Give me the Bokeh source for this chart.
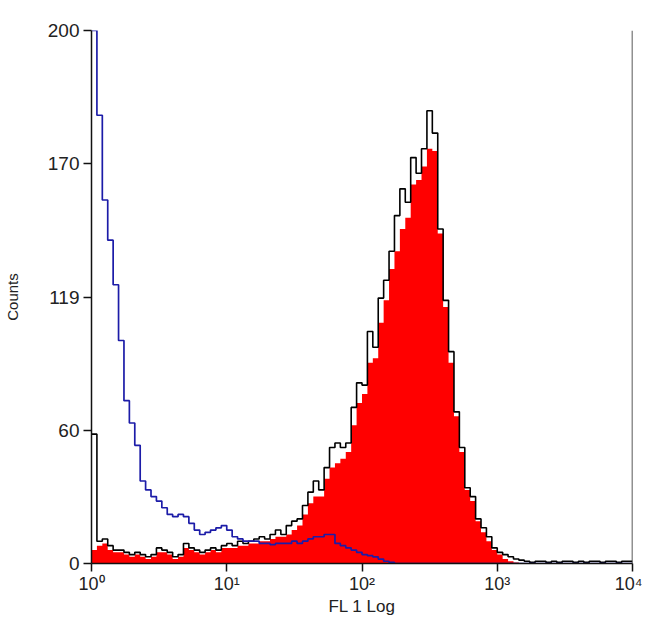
import numpy as np
from bokeh.plotting import figure
from bokeh.models import Range1d, FixedTicker, CustomJSTickFormatter, Span
from bokeh.embed import file_html
from bokeh.resources import INLINE

# channel grid: 4 decades, 0.04-decade bins
DECADES = 4
BIN_WIDTH = 0.04

x_tick_values = [1, 10, 100, 1000, 10000]
x_tick_labels = ["10\u2070", "10\u00b9", "10\u00b2", "10\u00b3", "10\u2074"]
y_tick_values = [0, 59.75, 119.5, 179.25, 239]
y_tick_labels = ["0", "60", "119", "170", "200"]
Y_MAX = 239

# isotype control (blue outline)
blue_counts = [239, 201, 163, 145, 125, 100, 73, 63, 53, 37,
               33, 30, 28, 25, 22, 21, 22, 21, 18, 15,
               13, 14, 15, 16, 17, 15, 12, 11, 10, 10,
               10, 9, 9, 8.5, 9, 9, 9, 10, 9, 10,
               11, 12, 12, 13, 13, 9, 8, 7, 6, 5,
               4, 3.5, 3, 2, 1, 0.5, 0, 0, 0, 0,
               0, 0, 0, 0, 0, 0, 0, 0, 0, 0,
               0, 0, 0, 0, 0, 0, 0, 0, 0, 0,
               0, 0, 0, 0, 0, 0, 0, 0, 0, 0,
               0, 0, 0, 0, 0, 0, 0, 0, 0, 0]

# stained sample outline (black)
black_counts = [58, 10, 11, 8, 6, 6, 5, 4, 5, 4,
                3, 4, 7, 6, 5, 3, 4, 9, 7, 6,
                5, 6, 7, 6, 8, 9, 8, 10, 9, 10,
                11, 12, 11, 13, 15, 13, 17, 19, 20, 26,
                32, 37, 33, 43, 52, 54, 52, 54, 70, 81,
                80, 104, 97, 119, 127, 140, 156, 168, 162, 182,
                175, 186, 203, 193, 150, 118, 95, 68, 52, 34,
                30, 20, 16, 12, 7, 5, 4, 3, 2, 1.5,
                1, 0.5, 1, 1, 0.5, 1, 0.5, 1, 1, 0.5,
                1, 0.5, 1, 1, 0.5, 1, 1, 0.5, 1, 1]

# stained sample fill (red)
red_counts = [6, 8, 9, 6, 5, 5, 4, 3, 4, 3,
              2, 3, 5, 5, 4, 2, 3, 7, 6, 5,
              4, 5, 6, 5, 7, 7, 7, 8, 8, 9,
              9, 10, 10, 11, 12, 12, 13, 15, 17, 22,
              27, 30, 30, 38, 43, 45, 47, 50, 62, 72,
              76, 90, 92, 108, 118, 132, 140, 150, 155, 170,
              172, 178, 186, 185, 148, 115, 90, 66, 50, 33,
              28, 19, 14, 10, 6, 4, 2, 1, 0.5, 0,
              0, 0, 0, 0, 0, 0, 0, 0, 0, 0,
              0, 0, 0, 0, 0, 0, 0, 0, 0, 0]

n = len(black_counts)
edges = 10.0 ** (np.arange(n + 1) * BIN_WIDTH)
left = edges[:-1]
right = edges[1:]

def step_area(counts):
    xs, ys = [], []
    for l, r, c in zip(left, right, counts):
        xs += [l, r]
        ys += [c, c]
    return xs, ys

def step_xy(counts):
    c = list(counts)
    return list(left) + [right[-1]], c + [c[-1]]

FONT = "Liberation Sans"
TXT = "#222222"

p = figure(frame_width=541, frame_height=533, x_axis_type="log",
           x_range=Range1d(1, 10 ** DECADES), y_range=Range1d(0, Y_MAX),
           output_backend="svg", toolbar_location=None,
           min_border_left=91, min_border_right=10, min_border_top=30, min_border_bottom=60)
p.background_fill_color = "white"
p.border_fill_color = "white"
p.outline_line_color = None
p.grid.grid_line_color = None

rx, ry = step_area(red_counts)
p.varea(x=rx, y1=[0] * len(ry), y2=ry, fill_color="#ff0000")

bx, by = step_xy(black_counts)
p.step(bx, by, mode="after", line_color="#000000", line_width=1.6)
ux, uy = step_xy(blue_counts)
p.step(ux, uy, mode="after", line_color="#1c1ca8", line_width=1.7)

p.add_layout(Span(location=10 ** DECADES, dimension="height",
                  line_color="#222222", line_width=1.5))

p.xaxis.ticker = FixedTicker(ticks=x_tick_values)
p.xaxis.formatter = CustomJSTickFormatter(
    args=dict(vals=x_tick_values, labs=x_tick_labels),
    code="""
let best = 0, bd = 1e99;
for (let i = 0; i < vals.length; i++) {
  const d = Math.abs(Math.log10(vals[i]) - Math.log10(tick));
  if (d < bd) { bd = d; best = i; }
}
return labs[best];
""")
p.yaxis.ticker = FixedTicker(ticks=y_tick_values)
p.yaxis.formatter = CustomJSTickFormatter(
    args=dict(vals=y_tick_values, labs=y_tick_labels),
    code="""
let best = 0, bd = 1e99;
for (let i = 0; i < vals.length; i++) {
  const d = Math.abs(vals[i] - tick);
  if (d < bd) { bd = d; best = i; }
}
return labs[best];
""")

for ax in (p.xaxis[0], p.yaxis[0]):
    ax.axis_line_color = "#111111"
    ax.axis_line_width = 1.5
    ax.major_tick_line_color = "#111111"
    ax.major_tick_line_width = 1.5
    ax.major_tick_out = 8
    ax.major_tick_in = 0
    ax.minor_tick_line_color = None
    ax.major_label_text_font = FONT
    ax.major_label_text_font_size = "19px"
    ax.major_label_text_color = TXT
    ax.axis_label_text_font = FONT
    ax.axis_label_text_font_style = "normal"
    ax.axis_label_text_color = TXT

p.xaxis.major_label_text_font_size = "18px"
p.xaxis.axis_label = "FL 1 Log"
p.xaxis.axis_label_text_font_size = "17px"
p.xaxis.axis_label_standoff = 0
p.xaxis.major_label_standoff = 2
p.yaxis.axis_label = "Counts"
p.yaxis.axis_label_text_font_size = "15px"
p.yaxis.axis_label_standoff = 24
p.yaxis.major_label_standoff = 4

open("out.html", "w").write(file_html(p, INLINE))
